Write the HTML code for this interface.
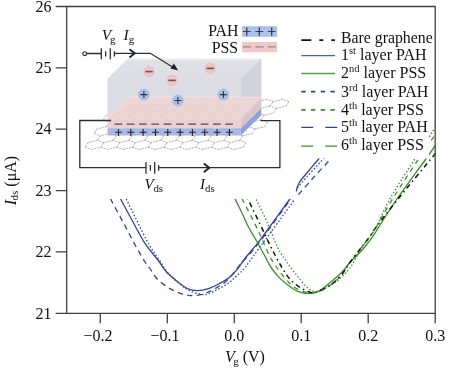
<!DOCTYPE html>
<html><head><meta charset="utf-8"><style>
html,body{margin:0;padding:0;background:#fff;}
svg{display:block;}
</style></head><body>
<svg width="450" height="369" viewBox="0 0 450 369">
<rect width="450" height="369" fill="#fff"/>
<defs><clipPath id="pa"><rect x="66.7" y="6.5" width="368.5" height="306.8"/></clipPath></defs>
<g clip-path="url(#pa)" fill="none" stroke-linejoin="round">
<path d="M116.0,190.0 C116.8,191.6 118.2,194.5 121.0,199.8 C123.8,205.1 128.9,214.6 133.0,222.0 C137.1,229.4 141.3,237.9 145.5,244.2 C149.7,250.5 154.5,255.4 158.0,260.0 C161.5,264.6 162.8,267.8 166.3,271.7 C169.9,275.6 175.8,280.3 179.3,283.1 C182.8,285.9 184.4,287.2 187.4,288.5 C190.4,289.8 193.7,290.7 197.2,290.7 C200.7,290.7 204.8,289.8 208.5,288.6 C212.2,287.4 216.1,285.3 219.5,283.5 C222.9,281.7 226.2,280.0 229.0,277.8 C231.8,275.6 233.9,273.4 236.6,270.2 C239.3,267.0 241.5,263.0 245.0,258.5 C248.5,254.0 254.0,247.8 257.5,243.4 C261.0,239.0 260.7,239.3 266.0,232.0 C271.3,224.7 285.0,205.8 289.5,199.5 C294.0,193.2 292.4,195.3 293.0,194.5" stroke="#30449c" stroke-width="1.30"/>
<path d="M296.3,191.5 C296.4,190.8 296.7,189.0 297.2,187.5 C297.7,186.0 298.2,184.2 299.3,182.5 C300.4,180.8 300.2,181.0 303.5,177.0 C306.8,173.0 315.9,162.2 319.0,158.5 C322.1,154.8 321.5,155.6 322.0,155.0" stroke="#30449c" stroke-width="1.30"/>
<path d="M121.0,190.0 C121.9,191.6 123.8,194.6 126.5,199.8 C129.2,205.0 133.3,213.6 137.0,221.0 C140.7,228.4 145.0,237.5 148.8,244.2 C152.6,250.9 156.8,256.2 160.0,261.0 C163.2,265.8 164.5,269.0 168.0,273.0 C171.5,277.0 177.3,282.0 181.0,285.0 C184.7,288.0 186.7,289.5 190.0,291.0 C193.3,292.5 198.0,293.7 201.0,294.2 C204.0,294.7 205.2,294.8 208.1,293.9 C211.0,293.0 215.0,290.8 218.5,288.9 C222.0,287.0 226.0,284.8 229.0,282.6 C232.0,280.5 233.9,278.5 236.6,276.0 C239.3,273.5 241.3,272.0 245.0,267.5 C248.7,263.0 251.0,259.2 258.5,249.0 C266.0,238.8 284.1,214.2 290.0,206.0 C295.9,197.8 293.3,201.0 294.0,200.0" stroke="#30449c" stroke-width="1.30" stroke-dasharray="1.5,2"/>
<path d="M297.9,187.6 C298.3,187.0 296.2,188.8 300.5,184.0 C304.8,179.2 319.4,163.2 323.6,158.5 C327.9,153.8 325.6,156.0 326.0,155.5" stroke="#30449c" stroke-width="1.30" stroke-dasharray="1.5,2"/>
<path d="M106.0,190.0 C106.8,191.6 108.2,194.5 111.0,199.8 C113.8,205.1 119.0,214.6 123.0,222.0 C127.0,229.4 131.0,237.5 134.7,244.2 C138.4,250.9 142.4,257.9 145.0,262.0 C147.6,266.1 148.1,265.8 150.0,268.5 C151.9,271.2 153.8,275.2 156.5,278.2 C159.2,281.2 163.1,284.1 166.3,286.3 C169.6,288.6 172.8,290.3 176.0,291.7 C179.2,293.1 182.8,294.1 185.8,294.8 C188.8,295.5 190.7,295.8 193.9,295.6 C197.1,295.4 201.5,294.7 205.0,293.5 C208.5,292.3 211.7,290.4 215.0,288.5 C218.3,286.6 221.8,284.9 225.0,282.2 C228.2,279.5 231.2,275.8 234.0,272.5 C236.8,269.2 239.5,265.2 242.0,262.3 C244.5,259.4 246.4,257.9 249.0,255.0 C251.6,252.1 254.7,248.2 257.5,244.6 C260.3,241.0 260.7,240.6 266.0,233.3 C271.3,226.0 284.8,207.3 289.5,200.8 C294.2,194.3 293.2,195.6 294.0,194.5" stroke="#30449c" stroke-width="1.30" stroke-dasharray="5.5,4.3"/>
<path d="M298.5,194.7 C301.0,191.8 308.5,183.0 313.5,177.5 C318.5,172.0 325.5,164.7 328.4,161.5 C331.3,158.3 330.6,158.8 331.0,158.3" stroke="#30449c" stroke-width="1.30" stroke-dasharray="5.5,4.3"/>
<path d="M231.0,190.0 C231.7,191.5 233.3,195.1 235.1,198.9 C236.9,202.7 239.7,208.2 242.0,213.0 C244.3,217.8 246.4,223.1 249.0,228.0 C251.6,232.9 255.0,238.1 257.5,242.6 C260.0,247.1 262.4,251.4 264.2,254.8 C266.0,258.2 267.1,260.5 268.5,263.0 C269.9,265.5 271.0,267.6 272.8,270.0 C274.6,272.4 277.0,275.2 279.3,277.6 C281.6,280.0 284.4,282.3 286.9,284.3 C289.4,286.3 292.1,288.4 294.5,289.7 C296.9,291.0 298.8,291.8 301.0,292.4 C303.2,293.0 305.5,293.7 308.0,293.6 C310.5,293.6 313.9,292.9 316.2,292.1 C318.5,291.4 319.4,290.9 322.0,289.1 C324.6,287.3 328.6,284.0 332.0,281.1 C335.4,278.2 339.8,274.3 342.1,272.0 C344.4,269.7 344.5,269.1 346.0,267.3 C347.5,265.5 349.4,262.9 351.0,261.2 C352.6,259.4 353.9,258.4 355.5,256.8 C357.1,255.2 358.8,253.7 360.5,251.8 C362.2,249.9 364.2,247.7 366.0,245.5 C367.8,243.3 369.6,240.8 371.2,238.6 C372.8,236.4 374.1,234.4 375.5,232.3 C376.9,230.2 375.8,231.6 379.3,226.2 C382.8,220.8 388.6,211.1 396.3,200.0 C404.0,188.9 418.7,169.0 425.5,159.5 C432.3,150.0 435.1,145.8 437.0,143.0" stroke="#3a9028" stroke-width="1.30"/>
<path d="M238.0,190.0 C238.7,191.5 239.4,193.6 242.1,198.9 C244.8,204.2 250.7,215.3 254.0,222.0 C257.3,228.7 259.4,233.3 262.0,239.0 C264.6,244.7 267.4,251.8 269.6,256.1 C271.8,260.4 273.3,262.2 275.0,264.8 C276.7,267.4 277.9,269.2 279.9,271.8 C281.9,274.4 284.5,278.0 286.9,280.5 C289.2,283.0 291.6,285.3 294.0,287.0 C296.4,288.7 298.7,289.9 301.0,290.8 C303.3,291.7 305.5,292.2 308.0,292.5 C310.5,292.8 312.5,293.4 316.0,292.3 C319.5,291.2 324.8,288.8 329.0,286.0 C333.2,283.2 337.8,279.0 341.0,275.5 C344.2,272.0 345.6,268.6 348.1,265.0 C350.7,261.4 353.8,257.5 356.3,254.2 C358.8,250.9 360.8,248.3 363.0,245.4 C365.2,242.5 367.5,239.7 369.8,236.5 C372.1,233.3 372.6,232.9 376.6,226.3 C380.6,219.7 386.9,208.1 393.8,197.0 C400.7,185.9 411.0,170.3 418.2,159.5 C425.4,148.7 433.9,136.6 437.0,132.0" stroke="#3a9028" stroke-width="1.30" stroke-dasharray="4.8,4.6"/>
<path d="M245.0,190.0 C245.7,191.9 246.6,195.7 249.1,201.4 C251.6,207.1 256.9,217.4 260.0,224.0 C263.1,230.6 265.4,235.7 268.0,241.0 C270.6,246.3 273.2,251.5 275.6,256.1 C278.0,260.7 280.2,264.7 282.6,268.6 C285.0,272.5 287.3,276.2 290.2,279.4 C293.1,282.5 297.2,285.6 300.0,287.5 C302.8,289.4 304.6,290.1 307.0,291.0 C309.4,291.9 310.7,293.4 314.4,292.6 C318.1,291.8 324.6,288.9 329.0,286.0 C333.4,283.1 337.8,279.0 341.0,275.5 C344.2,272.0 345.6,268.6 348.1,265.0 C350.7,261.4 353.8,257.5 356.3,254.2 C358.8,250.9 360.8,248.3 363.0,245.4 C365.2,242.5 367.5,239.8 369.8,236.6 C372.1,233.4 371.9,232.8 376.6,226.5 C381.3,220.2 388.4,211.0 398.0,199.0 C407.6,187.0 428.0,162.6 434.5,154.6 C441.0,146.6 436.6,151.6 437.0,151.0" stroke="#111" stroke-width="1.50" stroke-dasharray="5,3.5,1.5,3.5"/>
<path d="M252.0,190.0 C252.7,191.5 253.4,193.6 255.9,198.9 C258.4,204.2 263.4,213.9 267.0,222.0 C270.6,230.1 274.6,241.2 277.8,247.7 C281.0,254.2 282.9,256.4 286.0,261.0 C289.1,265.6 293.1,270.8 296.7,275.2 C300.2,279.6 304.1,284.9 307.3,287.7 C310.6,290.5 313.8,291.7 316.2,292.1 C318.6,292.5 319.5,291.2 322.0,290.0 C324.5,288.8 328.5,286.6 331.0,285.1 C333.5,283.6 335.1,282.5 337.0,281.1 C338.9,279.7 340.6,278.0 342.1,276.6 C343.6,275.2 345.0,273.9 346.1,272.6 C347.2,271.3 348.0,270.3 349.0,269.0 C350.0,267.7 350.7,267.2 352.0,265.0 C353.3,262.8 355.2,259.2 357.0,256.0 C358.8,252.8 360.9,249.2 363.0,246.0 C365.1,242.8 367.5,239.8 369.8,236.5 C372.1,233.2 373.1,232.8 376.6,226.3 C380.1,219.8 384.2,209.0 390.6,197.7 C397.0,186.4 407.3,170.8 415.0,158.7 C422.7,146.6 433.3,130.6 437.0,125.0" stroke="#3a9028" stroke-width="1.30" stroke-dasharray="1.5,2"/>
</g>
<rect x="68" y="8" width="226.5" height="191" fill="#fff"/>
<rect x="297" y="8" width="132" height="150.5" fill="#fff"/>
<path d="M66.7,6.5 H435.2 V313.3 H66.7 Z" fill="none" stroke="#404040" stroke-width="1.3"/>
<path d="M55.7,313.3 H66.7 M55.7,251.9 H66.7 M55.7,190.6 H66.7 M55.7,129.2 H66.7 M55.7,67.9 H66.7 M55.7,6.5 H66.7 M100.3,313.3 V323.3 M167.3,313.3 V323.3 M234.3,313.3 V323.3 M301.2,313.3 V323.3 M368.2,313.3 V323.3 M435.2,313.3 V323.3 " stroke="#404040" stroke-width="1.3"/>
<g font-family="Liberation Serif, serif" font-size="16" fill="#111"><text x="51.5" y="318.5" text-anchor="end">21</text><text x="51.5" y="257.1" text-anchor="end">22</text><text x="51.5" y="195.8" text-anchor="end">23</text><text x="51.5" y="134.4" text-anchor="end">24</text><text x="51.5" y="73.1" text-anchor="end">25</text><text x="51.5" y="11.7" text-anchor="end">26</text><text x="98.0" y="340.5" text-anchor="middle">−0.2</text><text x="165.0" y="340.5" text-anchor="middle">−0.1</text><text x="234.3" y="340.5" text-anchor="middle">0.0</text><text x="301.2" y="340.5" text-anchor="middle">0.1</text><text x="368.2" y="340.5" text-anchor="middle">0.2</text><text x="435.2" y="340.5" text-anchor="middle">0.3</text></g>
<text x="225" y="361.7" font-family="Liberation Serif, serif" font-size="16" fill="#111"><tspan font-style="italic">V</tspan><tspan font-size="11" dx="-1.6" dy="3.4">g</tspan><tspan dy="-3.4"> (V)</tspan></text>
<text transform="translate(15.6,205.2) rotate(-90)" font-family="Liberation Serif, serif" font-size="16" fill="#111"><tspan font-style="italic">I</tspan><tspan font-size="11" dx="-0.6" dy="2.4">ds</tspan><tspan dy="-2.4"> (μA)</tspan></text>
<g font-family="Liberation Serif, serif" font-size="16" fill="#111"><path d="M301.3,40.1 H335.0" stroke="#111" stroke-width="1.8" stroke-dasharray="10,8,4,8"/><text x="341" y="42.7" font-size="15.8">Bare graphene</text><path d="M301.3,55.6 H335.0" stroke="#4a62ad" stroke-width="1.3"/><text x="341" y="60.3">1<tspan font-size="10.5" dy="-6">st</tspan><tspan dy="6"> layer PAH</tspan></text><path d="M301.3,73.5 H335.0" stroke="#55a03c" stroke-width="1.3"/><text x="341" y="78.0">2<tspan font-size="10.5" dy="-6">nd</tspan><tspan dy="6"> layer PSS</tspan></text><path d="M301.3,91.6 H335.5" stroke="#30449c" stroke-width="1.6" stroke-dasharray="4.4,5.3"/><text x="341" y="96.6">3<tspan font-size="10.5" dy="-6">rd</tspan><tspan dy="6"> layer PAH</tspan></text><path d="M301.3,109.9 H335.5" stroke="#3a9028" stroke-width="1.6" stroke-dasharray="4.4,5.3"/><text x="341" y="114.6">4<tspan font-size="10.5" dy="-6">th</tspan><tspan dy="6"> layer PSS</tspan></text><path d="M301.3,127.3 H337.2" stroke="#30449c" stroke-width="1.3" stroke-dasharray="12,12"/><text x="341" y="132.1">5<tspan font-size="10.5" dy="-6">th</tspan><tspan dy="6"> layer PAH</tspan></text><path d="M301.3,146.1 H337.2" stroke="#3a9028" stroke-width="1.3" stroke-dasharray="12,12"/><text x="341" y="149.9">6<tspan font-size="10.5" dy="-6">th</tspan><tspan dy="6"> layer PSS</tspan></text></g>
<path d="M103.9,142.6 L97.5,140.3 M97.5,140.3 L88.1,142.6 M88.1,142.6 L85.1,147.2 M85.1,147.2 L91.5,149.5 M91.5,149.5 L100.9,147.2 M100.9,147.2 L103.9,142.6 M119.7,142.6 L113.3,140.3 M113.3,140.3 L103.9,142.6 M100.9,147.2 L107.3,149.5 M107.3,149.5 L116.7,147.2 M116.7,147.2 L119.7,142.6 M135.5,142.6 L129.1,140.3 M129.1,140.3 L119.7,142.6 M116.7,147.2 L123.1,149.5 M123.1,149.5 L132.5,147.2 M132.5,147.2 L135.5,142.6 M151.3,142.6 L144.9,140.3 M144.9,140.3 L135.5,142.6 M132.5,147.2 L138.9,149.5 M138.9,149.5 L148.3,147.2 M148.3,147.2 L151.3,142.6 M167.1,142.6 L160.7,140.3 M160.7,140.3 L151.3,142.6 M148.3,147.2 L154.7,149.5 M154.7,149.5 L164.1,147.2 M164.1,147.2 L167.1,142.6 M182.9,142.6 L176.5,140.3 M176.5,140.3 L167.1,142.6 M164.1,147.2 L170.5,149.5 M170.5,149.5 L179.9,147.2 M179.9,147.2 L182.9,142.6 M198.7,142.6 L192.3,140.3 M192.3,140.3 L182.9,142.6 M179.9,147.2 L186.3,149.5 M186.3,149.5 L195.7,147.2 M195.7,147.2 L198.7,142.6 M214.5,142.6 L208.1,140.3 M208.1,140.3 L198.7,142.6 M195.7,147.2 L202.1,149.5 M202.1,149.5 L211.5,147.2 M211.5,147.2 L214.5,142.6 M230.3,142.6 L223.9,140.3 M223.9,140.3 L214.5,142.6 M211.5,147.2 L217.9,149.5 M217.9,149.5 L227.3,147.2 M227.3,147.2 L230.3,142.6 M246.1,142.6 L239.7,140.3 M239.7,140.3 L230.3,142.6 M227.3,147.2 L233.7,149.5 M233.7,149.5 L243.1,147.2 M243.1,147.2 L246.1,142.6 M116.3,135.8 L109.9,133.5 M109.9,133.5 L100.5,135.8 M100.5,135.8 L97.5,140.3 M113.3,140.3 L116.3,135.8 M132.1,135.8 L125.7,133.5 M125.7,133.5 L116.3,135.8 M129.1,140.3 L132.1,135.8 M147.9,135.8 L141.5,133.5 M141.5,133.5 L132.1,135.8 M144.9,140.3 L147.9,135.8 M163.7,135.8 L157.3,133.5 M157.3,133.5 L147.9,135.8 M160.7,140.3 L163.7,135.8 M179.5,135.8 L173.1,133.5 M173.1,133.5 L163.7,135.8 M176.5,140.3 L179.5,135.8 M195.3,135.8 L188.9,133.5 M188.9,133.5 L179.5,135.8 M192.3,140.3 L195.3,135.8 M211.1,135.8 L204.7,133.5 M204.7,133.5 L195.3,135.8 M208.1,140.3 L211.1,135.8 M226.9,135.8 L220.5,133.5 M220.5,133.5 L211.1,135.8 M223.9,140.3 L226.9,135.8 M242.7,135.8 L236.3,133.5 M236.3,133.5 L226.9,135.8 M239.7,140.3 L242.7,135.8 M112.9,128.9 L106.5,126.7 M106.5,126.7 L97.1,128.9 M97.1,128.9 L94.1,133.5 M94.1,133.5 L100.5,135.8 M109.9,133.5 L112.9,128.9 M128.7,128.9 L122.3,126.7 M122.3,126.7 L112.9,128.9 M125.7,133.5 L128.7,128.9 M144.5,128.9 L138.1,126.7 M138.1,126.7 L128.7,128.9 M141.5,133.5 L144.5,128.9 M160.3,128.9 L153.9,126.7 M153.9,126.7 L144.5,128.9 M157.3,133.5 L160.3,128.9 M176.1,128.9 L169.7,126.7 M169.7,126.7 L160.3,128.9 M173.1,133.5 L176.1,128.9 M191.9,128.9 L185.5,126.7 M185.5,126.7 L176.1,128.9 M188.9,133.5 L191.9,128.9 M207.7,128.9 L201.3,126.7 M201.3,126.7 L191.9,128.9 M204.7,133.5 L207.7,128.9 M223.5,128.9 L217.1,126.7 M217.1,126.7 L207.7,128.9 M220.5,133.5 L223.5,128.9 M239.3,128.9 L232.9,126.7 M232.9,126.7 L223.5,128.9 M236.3,133.5 L239.3,128.9 M255.1,128.9 L248.7,126.7 M248.7,126.7 L239.3,128.9 M242.7,135.8 L252.1,133.5 M252.1,133.5 L255.1,128.9 M125.3,122.1 L119.0,119.8 M119.0,119.8 L109.5,122.1 M109.5,122.1 L106.5,126.7 M122.3,126.7 L125.3,122.1 M141.1,122.1 L134.7,119.8 M134.7,119.8 L125.3,122.1 M138.1,126.7 L141.1,122.1 M156.9,122.1 L150.5,119.8 M150.5,119.8 L141.1,122.1 M153.9,126.7 L156.9,122.1 M172.7,122.1 L166.3,119.8 M166.3,119.8 L156.9,122.1 M169.7,126.7 L172.7,122.1 M188.5,122.1 L182.1,119.8 M182.1,119.8 L172.7,122.1 M185.5,126.7 L188.5,122.1 M204.3,122.1 L197.9,119.8 M197.9,119.8 L188.5,122.1 M201.3,126.7 L204.3,122.1 M220.1,122.1 L213.7,119.8 M213.7,119.8 L204.3,122.1 M217.1,126.7 L220.1,122.1 M235.9,122.1 L229.5,119.8 M229.5,119.8 L220.1,122.1 M232.9,126.7 L235.9,122.1 M251.7,122.1 L245.3,119.8 M245.3,119.8 L235.9,122.1 M248.7,126.7 L251.7,122.1 M267.5,122.1 L261.1,119.8 M261.1,119.8 L251.7,122.1 M255.1,128.9 L264.5,126.7 M264.5,126.7 L267.5,122.1 M122.0,115.3 L115.6,113.0 M115.6,113.0 L106.2,115.3 M106.2,115.3 L103.2,119.8 M103.2,119.8 L109.5,122.1 M119.0,119.8 L122.0,115.3 M137.8,115.3 L131.4,113.0 M131.4,113.0 L122.0,115.3 M134.7,119.8 L137.8,115.3 M153.6,115.3 L147.2,113.0 M147.2,113.0 L137.8,115.3 M150.5,119.8 L153.6,115.3 M169.3,115.3 L163.0,113.0 M163.0,113.0 L153.6,115.3 M166.3,119.8 L169.3,115.3 M185.1,115.3 L178.8,113.0 M178.8,113.0 L169.3,115.3 M182.1,119.8 L185.1,115.3 M200.9,115.3 L194.5,113.0 M194.5,113.0 L185.1,115.3 M197.9,119.8 L200.9,115.3 M216.7,115.3 L210.3,113.0 M210.3,113.0 L200.9,115.3 M213.7,119.8 L216.7,115.3 M232.5,115.3 L226.1,113.0 M226.1,113.0 L216.7,115.3 M229.5,119.8 L232.5,115.3 M248.3,115.3 L241.9,113.0 M241.9,113.0 L232.5,115.3 M245.3,119.8 L248.3,115.3 M264.1,115.3 L257.7,113.0 M257.7,113.0 L248.3,115.3 M261.1,119.8 L264.1,115.3 M134.4,108.4 L128.0,106.1 M128.0,106.1 L118.6,108.4 M118.6,108.4 L115.6,113.0 M131.4,113.0 L134.4,108.4 M150.2,108.4 L143.8,106.1 M143.8,106.1 L134.4,108.4 M147.2,113.0 L150.2,108.4 M166.0,108.4 L159.6,106.1 M159.6,106.1 L150.2,108.4 M163.0,113.0 L166.0,108.4 M181.8,108.4 L175.4,106.1 M175.4,106.1 L166.0,108.4 M178.8,113.0 L181.8,108.4 M197.6,108.4 L191.2,106.1 M191.2,106.1 L181.8,108.4 M194.5,113.0 L197.6,108.4 M213.4,108.4 L207.0,106.1 M207.0,106.1 L197.6,108.4 M210.3,113.0 L213.4,108.4 M229.2,108.4 L222.8,106.1 M222.8,106.1 L213.4,108.4 M226.1,113.0 L229.2,108.4 M244.9,108.4 L238.6,106.1 M238.6,106.1 L229.2,108.4 M241.9,113.0 L244.9,108.4 M260.7,108.4 L254.4,106.1 M254.4,106.1 L244.9,108.4 M257.7,113.0 L260.7,108.4 M276.5,108.4 L270.1,106.1 M270.1,106.1 L260.7,108.4 M264.1,115.3 L273.5,113.0 M273.5,113.0 L276.5,108.4 M131.0,101.6 L124.6,99.3 M124.6,99.3 L115.2,101.6 M115.2,101.6 L112.2,106.1 M112.2,106.1 L118.6,108.4 M128.0,106.1 L131.0,101.6 M146.8,101.6 L140.4,99.3 M140.4,99.3 L131.0,101.6 M143.8,106.1 L146.8,101.6 M162.6,101.6 L156.2,99.3 M156.2,99.3 L146.8,101.6 M159.6,106.1 L162.6,101.6 M178.4,101.6 L172.0,99.3 M172.0,99.3 L162.6,101.6 M175.4,106.1 L178.4,101.6 M194.2,101.6 L187.8,99.3 M187.8,99.3 L178.4,101.6 M191.2,106.1 L194.2,101.6 M210.0,101.6 L203.6,99.3 M203.6,99.3 L194.2,101.6 M207.0,106.1 L210.0,101.6 M225.8,101.6 L219.4,99.3 M219.4,99.3 L210.0,101.6 M222.8,106.1 L225.8,101.6 M241.6,101.6 L235.2,99.3 M235.2,99.3 L225.8,101.6 M238.6,106.1 L241.6,101.6 M257.4,101.6 L251.0,99.3 M251.0,99.3 L241.6,101.6 M254.4,106.1 L257.4,101.6 M273.2,101.6 L266.8,99.3 M266.8,99.3 L257.4,101.6 M270.1,106.1 L273.2,101.6 M289.0,101.6 L282.6,99.3 M282.6,99.3 L273.2,101.6 M276.5,108.4 L285.9,106.1 M285.9,106.1 L289.0,101.6" fill="none" stroke="#8e8e8e" stroke-width="0.7" stroke-dasharray="2,0.9"/>
<path d="M107.5,78.3 L240.8,78.3 L240.8,119.5 L107.5,119.5 Z" fill="#dcdce4"/>
<defs><linearGradient id="tg" x1="0" y1="0" x2="0" y2="1"><stop offset="0" stop-color="#eceef3"/><stop offset="0.15" stop-color="#e0e1e7"/><stop offset="1" stop-color="#dddee5"/></linearGradient></defs>
<path d="M107.5,78.8 L127.8,58.4 L261.4,58.4 L240.8,78.8 Z" fill="url(#tg)"/>
<path d="M240.8,78.6 L261.4,58.4 L261.4,97.5 L240.8,119.5 Z" fill="#d1d2db"/>
<path d="M107.5,119.5 L129.6,97.3 L261.4,97.3 L240.8,119.5 Z" fill="#ebd5d5"/>
<path d="M108.0,119.3 L129.6,97.3 L261.4,97.3" fill="none" stroke="#f3e3e3" stroke-width="1"/>
<clipPath id="pt"><path d="M107.5,119.5 L129.6,97.3 L261.4,97.3 L240.8,119.5 Z"/></clipPath>
<path clip-path="url(#pt)" d="M10.6,119.7 L4.2,117.4 M4.2,117.4 L-5.2,119.7 M-5.2,119.7 L-8.2,124.3 M-8.2,124.3 L-1.8,126.6 M-1.8,126.6 L7.6,124.3 M7.6,124.3 L10.6,119.7 M26.4,119.7 L20.0,117.4 M20.0,117.4 L10.6,119.7 M7.6,124.3 L14.0,126.6 M14.0,126.6 L23.4,124.3 M23.4,124.3 L26.4,119.7 M42.2,119.7 L35.8,117.4 M35.8,117.4 L26.4,119.7 M23.4,124.3 L29.8,126.6 M29.8,126.6 L39.2,124.3 M39.2,124.3 L42.2,119.7 M58.0,119.7 L51.6,117.4 M51.6,117.4 L42.2,119.7 M39.2,124.3 L45.6,126.6 M45.6,126.6 L55.0,124.3 M55.0,124.3 L58.0,119.7 M73.8,119.7 L67.4,117.4 M67.4,117.4 L58.0,119.7 M55.0,124.3 L61.4,126.6 M61.4,126.6 L70.8,124.3 M70.8,124.3 L73.8,119.7 M89.6,119.7 L83.2,117.4 M83.2,117.4 L73.8,119.7 M70.8,124.3 L77.2,126.6 M77.2,126.6 L86.6,124.3 M86.6,124.3 L89.6,119.7 M105.4,119.7 L99.0,117.4 M99.0,117.4 L89.6,119.7 M86.6,124.3 L93.0,126.6 M93.0,126.6 L102.4,124.3 M102.4,124.3 L105.4,119.7 M121.2,119.7 L114.8,117.4 M114.8,117.4 L105.4,119.7 M102.4,124.3 L108.8,126.6 M108.8,126.6 L118.2,124.3 M118.2,124.3 L121.2,119.7 M137.0,119.7 L130.6,117.4 M130.6,117.4 L121.2,119.7 M118.2,124.3 L124.6,126.6 M124.6,126.6 L134.0,124.3 M134.0,124.3 L137.0,119.7 M152.8,119.7 L146.4,117.4 M146.4,117.4 L137.0,119.7 M134.0,124.3 L140.4,126.6 M140.4,126.6 L149.8,124.3 M149.8,124.3 L152.8,119.7 M168.6,119.7 L162.2,117.4 M162.2,117.4 L152.8,119.7 M149.8,124.3 L156.2,126.6 M156.2,126.6 L165.6,124.3 M165.6,124.3 L168.6,119.7 M184.4,119.7 L178.0,117.4 M178.0,117.4 L168.6,119.7 M165.6,124.3 L172.0,126.6 M172.0,126.6 L181.4,124.3 M181.4,124.3 L184.4,119.7 M200.2,119.7 L193.8,117.4 M193.8,117.4 L184.4,119.7 M181.4,124.3 L187.8,126.6 M187.8,126.6 L197.2,124.3 M197.2,124.3 L200.2,119.7 M216.0,119.7 L209.6,117.4 M209.6,117.4 L200.2,119.7 M197.2,124.3 L203.6,126.6 M203.6,126.6 L213.0,124.3 M213.0,124.3 L216.0,119.7 M231.8,119.7 L225.4,117.4 M225.4,117.4 L216.0,119.7 M213.0,124.3 L219.4,126.6 M219.4,126.6 L228.8,124.3 M228.8,124.3 L231.8,119.7 M247.6,119.7 L241.2,117.4 M241.2,117.4 L231.8,119.7 M228.8,124.3 L235.2,126.6 M235.2,126.6 L244.6,124.3 M244.6,124.3 L247.6,119.7 M263.4,119.7 L257.0,117.4 M257.0,117.4 L247.6,119.7 M244.6,124.3 L251.0,126.6 M251.0,126.6 L260.4,124.3 M260.4,124.3 L263.4,119.7 M279.2,119.7 L272.8,117.4 M272.8,117.4 L263.4,119.7 M260.4,124.3 L266.7,126.6 M266.7,126.6 L276.2,124.3 M276.2,124.3 L279.2,119.7 M295.0,119.7 L288.6,117.4 M288.6,117.4 L279.2,119.7 M276.2,124.3 L282.5,126.6 M282.5,126.6 L291.9,124.3 M291.9,124.3 L295.0,119.7 M310.8,119.7 L304.4,117.4 M304.4,117.4 L295.0,119.7 M291.9,124.3 L298.3,126.6 M298.3,126.6 L307.7,124.3 M307.7,124.3 L310.8,119.7 M326.6,119.7 L320.2,117.4 M320.2,117.4 L310.8,119.7 M307.7,124.3 L314.1,126.6 M314.1,126.6 L323.5,124.3 M323.5,124.3 L326.6,119.7 M342.3,119.7 L336.0,117.4 M336.0,117.4 L326.6,119.7 M323.5,124.3 L329.9,126.6 M329.9,126.6 L339.3,124.3 M339.3,124.3 L342.3,119.7 M358.1,119.7 L351.8,117.4 M351.8,117.4 L342.3,119.7 M339.3,124.3 L345.7,126.6 M345.7,126.6 L355.1,124.3 M355.1,124.3 L358.1,119.7 M373.9,119.7 L367.5,117.4 M367.5,117.4 L358.1,119.7 M355.1,124.3 L361.5,126.6 M361.5,126.6 L370.9,124.3 M370.9,124.3 L373.9,119.7 M389.7,119.7 L383.3,117.4 M383.3,117.4 L373.9,119.7 M370.9,124.3 L377.3,126.6 M377.3,126.6 L386.7,124.3 M386.7,124.3 L389.7,119.7 M405.5,119.7 L399.1,117.4 M399.1,117.4 L389.7,119.7 M386.7,124.3 L393.1,126.6 M393.1,126.6 L402.5,124.3 M402.5,124.3 L405.5,119.7 M23.0,112.9 L16.6,110.6 M16.6,110.6 L7.2,112.9 M7.2,112.9 L4.2,117.4 M20.0,117.4 L23.0,112.9 M38.8,112.9 L32.4,110.6 M32.4,110.6 L23.0,112.9 M35.8,117.4 L38.8,112.9 M54.6,112.9 L48.2,110.6 M48.2,110.6 L38.8,112.9 M51.6,117.4 L54.6,112.9 M70.4,112.9 L64.0,110.6 M64.0,110.6 L54.6,112.9 M67.4,117.4 L70.4,112.9 M86.2,112.9 L79.8,110.6 M79.8,110.6 L70.4,112.9 M83.2,117.4 L86.2,112.9 M102.0,112.9 L95.6,110.6 M95.6,110.6 L86.2,112.9 M99.0,117.4 L102.0,112.9 M117.8,112.9 L111.4,110.6 M111.4,110.6 L102.0,112.9 M114.8,117.4 L117.8,112.9 M133.6,112.9 L127.2,110.6 M127.2,110.6 L117.8,112.9 M130.6,117.4 L133.6,112.9 M149.4,112.9 L143.0,110.6 M143.0,110.6 L133.6,112.9 M146.4,117.4 L149.4,112.9 M165.2,112.9 L158.8,110.6 M158.8,110.6 L149.4,112.9 M162.2,117.4 L165.2,112.9 M181.0,112.9 L174.6,110.6 M174.6,110.6 L165.2,112.9 M178.0,117.4 L181.0,112.9 M196.8,112.9 L190.4,110.6 M190.4,110.6 L181.0,112.9 M193.8,117.4 L196.8,112.9 M212.6,112.9 L206.2,110.6 M206.2,110.6 L196.8,112.9 M209.6,117.4 L212.6,112.9 M228.4,112.9 L222.0,110.6 M222.0,110.6 L212.6,112.9 M225.4,117.4 L228.4,112.9 M244.2,112.9 L237.8,110.6 M237.8,110.6 L228.4,112.9 M241.2,117.4 L244.2,112.9 M260.0,112.9 L253.6,110.6 M253.6,110.6 L244.2,112.9 M257.0,117.4 L260.0,112.9 M275.8,112.9 L269.4,110.6 M269.4,110.6 L260.0,112.9 M272.8,117.4 L275.8,112.9 M291.6,112.9 L285.2,110.6 M285.2,110.6 L275.8,112.9 M288.6,117.4 L291.6,112.9 M307.4,112.9 L301.0,110.6 M301.0,110.6 L291.6,112.9 M304.4,117.4 L307.4,112.9 M323.2,112.9 L316.8,110.6 M316.8,110.6 L307.4,112.9 M320.2,117.4 L323.2,112.9 M339.0,112.9 L332.6,110.6 M332.6,110.6 L323.2,112.9 M336.0,117.4 L339.0,112.9 M354.8,112.9 L348.4,110.6 M348.4,110.6 L339.0,112.9 M351.8,117.4 L354.8,112.9 M370.6,112.9 L364.2,110.6 M364.2,110.6 L354.8,112.9 M367.5,117.4 L370.6,112.9 M386.4,112.9 L380.0,110.6 M380.0,110.6 L370.6,112.9 M383.3,117.4 L386.4,112.9 M402.1,112.9 L395.8,110.6 M395.8,110.6 L386.4,112.9 M399.1,117.4 L402.1,112.9 M417.9,112.9 L411.6,110.6 M411.6,110.6 L402.1,112.9 M405.5,119.7 L414.9,117.4 M414.9,117.4 L417.9,112.9 M19.7,106.0 L13.3,103.8 M13.3,103.8 L3.9,106.0 M3.9,106.0 L0.8,110.6 M0.8,110.6 L7.2,112.9 M16.6,110.6 L19.7,106.0 M35.5,106.0 L29.1,103.8 M29.1,103.8 L19.7,106.0 M32.4,110.6 L35.5,106.0 M51.2,106.0 L44.9,103.8 M44.9,103.8 L35.5,106.0 M48.2,110.6 L51.2,106.0 M67.0,106.0 L60.6,103.8 M60.6,103.8 L51.2,106.0 M64.0,110.6 L67.0,106.0 M82.8,106.0 L76.4,103.8 M76.4,103.8 L67.0,106.0 M79.8,110.6 L82.8,106.0 M98.6,106.0 L92.2,103.8 M92.2,103.8 L82.8,106.0 M95.6,110.6 L98.6,106.0 M114.4,106.0 L108.0,103.8 M108.0,103.8 L98.6,106.0 M111.4,110.6 L114.4,106.0 M130.2,106.0 L123.8,103.8 M123.8,103.8 L114.4,106.0 M127.2,110.6 L130.2,106.0 M146.0,106.0 L139.6,103.8 M139.6,103.8 L130.2,106.0 M143.0,110.6 L146.0,106.0 M161.8,106.0 L155.4,103.8 M155.4,103.8 L146.0,106.0 M158.8,110.6 L161.8,106.0 M177.6,106.0 L171.2,103.8 M171.2,103.8 L161.8,106.0 M174.6,110.6 L177.6,106.0 M193.4,106.0 L187.0,103.8 M187.0,103.8 L177.6,106.0 M190.4,110.6 L193.4,106.0 M209.2,106.0 L202.8,103.8 M202.8,103.8 L193.4,106.0 M206.2,110.6 L209.2,106.0 M225.0,106.0 L218.6,103.8 M218.6,103.8 L209.2,106.0 M222.0,110.6 L225.0,106.0 M240.8,106.0 L234.4,103.8 M234.4,103.8 L225.0,106.0 M237.8,110.6 L240.8,106.0 M256.6,106.0 L250.2,103.8 M250.2,103.8 L240.8,106.0 M253.6,110.6 L256.6,106.0 M272.4,106.0 L266.0,103.8 M266.0,103.8 L256.6,106.0 M269.4,110.6 L272.4,106.0 M288.2,106.0 L281.8,103.8 M281.8,103.8 L272.4,106.0 M285.2,110.6 L288.2,106.0 M304.0,106.0 L297.6,103.8 M297.6,103.8 L288.2,106.0 M301.0,110.6 L304.0,106.0 M319.8,106.0 L313.4,103.8 M313.4,103.8 L304.0,106.0 M316.8,110.6 L319.8,106.0 M335.6,106.0 L329.2,103.8 M329.2,103.8 L319.8,106.0 M332.6,110.6 L335.6,106.0 M351.4,106.0 L345.0,103.8 M345.0,103.8 L335.6,106.0 M348.4,110.6 L351.4,106.0 M367.2,106.0 L360.8,103.8 M360.8,103.8 L351.4,106.0 M364.2,110.6 L367.2,106.0 M383.0,106.0 L376.6,103.8 M376.6,103.8 L367.2,106.0 M380.0,110.6 L383.0,106.0 M398.8,106.0 L392.4,103.8 M392.4,103.8 L383.0,106.0 M395.8,110.6 L398.8,106.0 M414.6,106.0 L408.2,103.8 M408.2,103.8 L398.8,106.0 M411.6,110.6 L414.6,106.0 M32.1,99.2 L25.7,96.9 M25.7,96.9 L16.3,99.2 M16.3,99.2 L13.3,103.8 M29.1,103.8 L32.1,99.2 M47.9,99.2 L41.5,96.9 M41.5,96.9 L32.1,99.2 M44.9,103.8 L47.9,99.2 M63.7,99.2 L57.3,96.9 M57.3,96.9 L47.9,99.2 M60.6,103.8 L63.7,99.2 M79.5,99.2 L73.1,96.9 M73.1,96.9 L63.7,99.2 M76.4,103.8 L79.5,99.2 M95.3,99.2 L88.9,96.9 M88.9,96.9 L79.5,99.2 M92.2,103.8 L95.3,99.2 M111.0,99.2 L104.7,96.9 M104.7,96.9 L95.3,99.2 M108.0,103.8 L111.0,99.2 M126.8,99.2 L120.5,96.9 M120.5,96.9 L111.0,99.2 M123.8,103.8 L126.8,99.2 M142.6,99.2 L136.2,96.9 M136.2,96.9 L126.8,99.2 M139.6,103.8 L142.6,99.2 M158.4,99.2 L152.0,96.9 M152.0,96.9 L142.6,99.2 M155.4,103.8 L158.4,99.2 M174.2,99.2 L167.8,96.9 M167.8,96.9 L158.4,99.2 M171.2,103.8 L174.2,99.2 M190.0,99.2 L183.6,96.9 M183.6,96.9 L174.2,99.2 M187.0,103.8 L190.0,99.2 M205.8,99.2 L199.4,96.9 M199.4,96.9 L190.0,99.2 M202.8,103.8 L205.8,99.2 M221.6,99.2 L215.2,96.9 M215.2,96.9 L205.8,99.2 M218.6,103.8 L221.6,99.2 M237.4,99.2 L231.0,96.9 M231.0,96.9 L221.6,99.2 M234.4,103.8 L237.4,99.2 M253.2,99.2 L246.8,96.9 M246.8,96.9 L237.4,99.2 M250.2,103.8 L253.2,99.2 M269.0,99.2 L262.6,96.9 M262.6,96.9 L253.2,99.2 M266.0,103.8 L269.0,99.2 M284.8,99.2 L278.4,96.9 M278.4,96.9 L269.0,99.2 M281.8,103.8 L284.8,99.2 M300.6,99.2 L294.2,96.9 M294.2,96.9 L284.8,99.2 M297.6,103.8 L300.6,99.2 M316.4,99.2 L310.0,96.9 M310.0,96.9 L300.6,99.2 M313.4,103.8 L316.4,99.2 M332.2,99.2 L325.8,96.9 M325.8,96.9 L316.4,99.2 M329.2,103.8 L332.2,99.2 M348.0,99.2 L341.6,96.9 M341.6,96.9 L332.2,99.2 M345.0,103.8 L348.0,99.2 M363.8,99.2 L357.4,96.9 M357.4,96.9 L348.0,99.2 M360.8,103.8 L363.8,99.2 M379.6,99.2 L373.2,96.9 M373.2,96.9 L363.8,99.2 M376.6,103.8 L379.6,99.2 M395.4,99.2 L389.0,96.9 M389.0,96.9 L379.6,99.2 M392.4,103.8 L395.4,99.2 M411.2,99.2 L404.8,96.9 M404.8,96.9 L395.4,99.2 M408.2,103.8 L411.2,99.2 M427.0,99.2 L420.6,96.9 M420.6,96.9 L411.2,99.2 M414.6,106.0 L424.0,103.8 M424.0,103.8 L427.0,99.2" fill="none" stroke="#d4b9bd" stroke-width="0.6" stroke-dasharray="1.5,0.8" opacity="0.32"/>
<path d="M107.5,119.5 L240.8,119.5 L240.8,128.3 L107.5,128.3 Z" fill="#eccfd2"/>
<path d="M240.8,119.5 L261.4,97.5 L261.4,108.3 L240.8,128.3 Z" fill="#dcc5c9"/>
<path d="M107.5,128.3 L240.8,128.3 L240.8,135.6 L107.5,135.6 Z" fill="#a7b7e2"/>
<path d="M240.8,128.3 L261.4,108.3 L261.4,115.2 L240.8,135.6 Z" fill="#8fa3d8"/>
<path d="M115.1,132.3 h6.8 M118.5,128.9 v7 M127.4,132.3 h6.8 M130.8,128.9 v7 M139.7,132.3 h6.8 M143.1,128.9 v7 M152.1,132.3 h6.8 M155.5,128.9 v7 M164.4,132.3 h6.8 M167.8,128.9 v7 M176.7,132.3 h6.8 M180.1,128.9 v7 M189.0,132.3 h6.8 M192.4,128.9 v7 M201.3,132.3 h6.8 M204.7,128.9 v7 M213.7,132.3 h6.8 M217.1,128.9 v7 M226.0,132.3 h6.8 M229.4,128.9 v7 " stroke="#222" stroke-width="1.1"/>
<path d="M114.5,124.1 h7.7 M126.8,124.1 h7.7 M139.1,124.1 h7.7 M151.4,124.1 h7.7 M163.7,124.1 h7.7 M176.1,124.1 h7.7 M188.4,124.1 h7.7 M200.7,124.1 h7.7 M213.0,124.1 h7.7 M225.3,124.1 h7.7 " stroke="#4d4d4d" stroke-width="1.2"/>
<circle cx="149.1" cy="71.6" r="5.4" fill="#efc6c6" stroke="#e8b9b9" stroke-width="0.6"/><path d="M145.4,71.6 h7.4" stroke="#6a5a5a" stroke-width="1.7"/>
<circle cx="172.1" cy="80.4" r="5.4" fill="#efc6c6" stroke="#e8b9b9" stroke-width="0.6"/><path d="M168.4,80.4 h7.4" stroke="#6a5a5a" stroke-width="1.7"/>
<circle cx="210.2" cy="68.4" r="5.4" fill="#efc6c6" stroke="#e8b9b9" stroke-width="0.6"/><path d="M206.5,68.4 h7.4" stroke="#6a5a5a" stroke-width="1.7"/>
<circle cx="143.9" cy="94.6" r="5.4" fill="#a9c1ef" stroke="#98b0e2" stroke-width="0.6"/><path d="M140.4,94.6 h7 M143.9,91.1 v7" stroke="#333" stroke-width="1.1"/>
<circle cx="177.9" cy="100.5" r="5.4" fill="#a9c1ef" stroke="#98b0e2" stroke-width="0.6"/><path d="M174.4,100.5 h7 M177.9,97.0 v7" stroke="#333" stroke-width="1.1"/>
<circle cx="223.4" cy="94.6" r="5.4" fill="#a9c1ef" stroke="#98b0e2" stroke-width="0.6"/><path d="M219.9,94.6 h7 M223.4,91.1 v7" stroke="#333" stroke-width="1.1"/>
<circle cx="84.7" cy="53.7" r="1.9" fill="#fff" stroke="#222" stroke-width="1.1"/>
<path d="M86.6,53.5 H101.3 M101.3,48.3 V59.3 M105.7,51.2 V56.4 M110.3,48.3 V59.3 M114.4,51.2 V56.4 M114.4,53.3 H150.3 L175,68.5" fill="none" stroke="#2e2e2e" stroke-width="1.3"/>
<path d="M129.4,49.2 L134.8,53.3 L129.4,57.4" fill="none" stroke="#222" stroke-width="1.9"/>
<path d="M178.2,70.4 L170.5,68.4 L173.9,63.4 Z" fill="#222"/>
<path d="M111,120.5 H79.8 V167.7 H146 M146,161.9 V173.7 M150.4,165 V170.7 M154.7,161.9 V173.7 M158.6,165 V170.7 M158.6,167.7 H279.9 V120.6 H260.5" fill="none" stroke="#2e2e2e" stroke-width="1.3"/>
<path d="M203.8,163.4 L209.3,167.8 L203.8,172.2" fill="none" stroke="#222" stroke-width="1.9"/>
<g font-family="Liberation Serif, serif" fill="#111">
<text x="101.8" y="40.3" font-size="15.5"><tspan font-style="italic">V</tspan><tspan font-size="11" dy="2.6" dx="-1.2">g</tspan></text>
<text x="123.6" y="40.3" font-size="15.5"><tspan font-style="italic">I</tspan><tspan font-size="11" dy="2.6">g</tspan></text>
<text x="144.6" y="189.0" font-size="15"><tspan font-style="italic">V</tspan><tspan font-size="10.8" dy="3.4" dx="-0.3">ds</tspan></text>
<text x="200.0" y="189.0" font-size="15"><tspan font-style="italic">I</tspan><tspan font-size="10.8" dy="3.4">ds</tspan></text>
<text x="238.3" y="35.8" font-size="15.8" text-anchor="end">PAH</text>
<text x="238.0" y="52.9" font-size="15.8" text-anchor="end">PSS</text>
</g>
<rect x="242.1" y="26.1" width="35" height="10.8" fill="#adc1ec"/>
<rect x="242.1" y="42.0" width="35" height="10.3" fill="#efc8c8"/>
<path d="M242.9,31.5 h7.8 M255.4,31.5 h7.8 M267.8,31.5 h7.8 " stroke="#333" stroke-width="0.9"/>
<path d="M246.8,27.4 v8.3 M259.3,27.4 v8.3 M271.7,27.4 v8.3 " stroke="#333" stroke-width="1.2"/>
<path d="M242.9,46.9 h8.2 M255.4,46.9 h8.2 M267.8,46.9 h8.2 " stroke="#9c8585" stroke-width="1.4"/>
</svg>
</body></html>
